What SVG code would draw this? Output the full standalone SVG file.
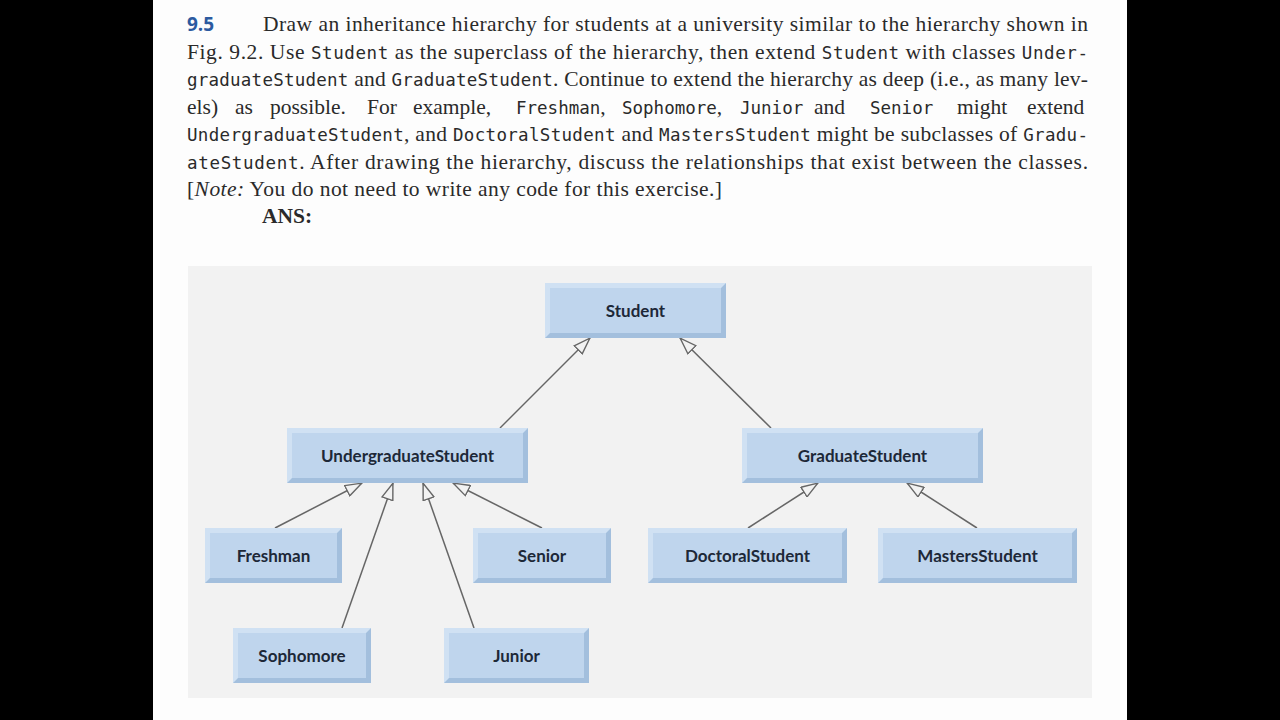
<svg xmlns="http://www.w3.org/2000/svg" width="1280" height="720" viewBox="0 0 1280 720">
<style>
.s{font-family:"Liberation Serif","Times New Roman",serif;font-size:21.5px;fill:#2a2a2a}
.m{font-family:"DejaVu Sans Mono","Liberation Mono",monospace;font-size:17.5px}
.it{font-style:italic}
.lbl{font-family:Lato,"Open Sans",sans-serif;font-weight:700;font-size:17px;fill:#1d2838;text-anchor:middle}
.lo{fill:#a3bfdd}
.hi{fill:#d0e1f3}
.face{fill:#bfd5ed}
.edge{stroke:#666;stroke-width:1.5;fill:none;marker-end:url(#tri)}
</style>
<defs>
<marker id="tri" viewBox="0 0 18 13" refX="17.5" refY="6.5" markerWidth="18" markerHeight="13" markerUnits="userSpaceOnUse" orient="auto">
<path d="M0.8,0.8 L17.2,6.5 L0.8,12.2 Z" fill="#f2f2f2" stroke="#666" stroke-width="1.4"/>
</marker>
</defs>
<rect x="0" y="0" width="1280" height="720" fill="#000"/>
<rect x="153" y="0" width="974" height="720" fill="#fdfdfd"/>
<rect x="188" y="266" width="904" height="432" fill="#f2f2f2"/>

<g id="text">
<text x="187" y="31" font-family="'Open Sans','Noto Sans',sans-serif" font-weight="700" font-size="19" fill="#2c5aa0">9.5</text>
<text class="s" x="263" y="31" textLength="825" lengthAdjust="spacing">Draw an inheritance hierarchy for students at a university similar to the hierarchy shown in</text>
<text class="s" x="187" y="59" textLength="901" lengthAdjust="spacing">Fig. 9.2. Use <tspan class="m">Student</tspan> as the superclass of the hierarchy, then extend <tspan class="m">Student</tspan> with classes <tspan class="m">Under-</tspan></text>
<text class="s" x="187" y="86" textLength="901" lengthAdjust="spacing"><tspan class="m">graduateStudent</tspan> and <tspan class="m">GraduateStudent</tspan>. Continue to extend the hierarchy as deep (i.e., as many lev-</text>
<text class="s" y="114"><tspan x="187">els)</tspan><tspan x="235">as</tspan><tspan x="270">possible.</tspan><tspan x="367">For</tspan><tspan x="413">example,</tspan><tspan x="516" class="m">Freshman</tspan>,<tspan x="622" class="m">Sophomore</tspan>,<tspan x="740" class="m">Junior</tspan><tspan x="814">and</tspan><tspan x="870" class="m">Senior</tspan><tspan x="957">might</tspan><tspan x="1027">extend</tspan></text>
<text class="s" x="187" y="141" textLength="901" lengthAdjust="spacing"><tspan class="m">UndergraduateStudent</tspan>, and <tspan class="m">DoctoralStudent</tspan> and <tspan class="m">MastersStudent</tspan> might be subclasses of <tspan class="m">Gradu-</tspan></text>
<text class="s" x="187" y="169" textLength="901" lengthAdjust="spacing"><tspan class="m">ateStudent</tspan>. After drawing the hierarchy, discuss the relationships that exist between the classes.</text>
<text class="s" x="187" y="196" textLength="535" lengthAdjust="spacing">[<tspan class="it">Note:</tspan> You do not need to write any code for this exercise.]</text>
<text class="s" x="262" y="223" font-weight="700" font-size="19">ANS:</text>
</g>

<g id="connectors">
<line class="edge" x1="500" y1="428" x2="590" y2="338"/>
<line class="edge" x1="771" y1="428" x2="680" y2="338"/>
<line class="edge" x1="275" y1="528" x2="362" y2="483"/>
<line class="edge" x1="342" y1="628" x2="393" y2="483"/>
<line class="edge" x1="474" y1="628" x2="423" y2="483"/>
<line class="edge" x1="542" y1="528" x2="453" y2="483"/>
<line class="edge" x1="748" y1="528" x2="818" y2="483"/>
<line class="edge" x1="977" y1="528" x2="907" y2="483"/>
</g>

<g id="student" transform="translate(545,283)">
<rect class="lo" width="181" height="55"/><polygon class="hi" points="0,0 181,0 176,5 5,5 5,50 0,55"/><rect class="face" x="5" y="5" width="171" height="45"/>
<text class="lbl" x="90.5" y="33.5">Student</text>
</g>
<g id="undergraduate" transform="translate(287,428)">
<rect class="lo" width="241" height="55"/><polygon class="hi" points="0,0 241,0 236,5 5,5 5,50 0,55"/><rect class="face" x="5" y="5" width="231" height="45"/>
<text class="lbl" x="120.5" y="33.5">UndergraduateStudent</text>
</g>
<g id="graduate" transform="translate(742,428)">
<rect class="lo" width="241" height="55"/><polygon class="hi" points="0,0 241,0 236,5 5,5 5,50 0,55"/><rect class="face" x="5" y="5" width="231" height="45"/>
<text class="lbl" x="120.5" y="33.5">GraduateStudent</text>
</g>
<g id="freshman" transform="translate(205,528)">
<rect class="lo" width="137" height="55"/><polygon class="hi" points="0,0 137,0 132,5 5,5 5,50 0,55"/><rect class="face" x="5" y="5" width="127" height="45"/>
<text class="lbl" x="68.5" y="33.5">Freshman</text>
</g>
<g id="senior" transform="translate(473,528)">
<rect class="lo" width="138" height="55"/><polygon class="hi" points="0,0 138,0 133,5 5,5 5,50 0,55"/><rect class="face" x="5" y="5" width="128" height="45"/>
<text class="lbl" x="69" y="33.5">Senior</text>
</g>
<g id="doctoral" transform="translate(648,528)">
<rect class="lo" width="199" height="55"/><polygon class="hi" points="0,0 199,0 194,5 5,5 5,50 0,55"/><rect class="face" x="5" y="5" width="189" height="45"/>
<text class="lbl" x="99.5" y="33.5">DoctoralStudent</text>
</g>
<g id="masters" transform="translate(878,528)">
<rect class="lo" width="199" height="55"/><polygon class="hi" points="0,0 199,0 194,5 5,5 5,50 0,55"/><rect class="face" x="5" y="5" width="189" height="45"/>
<text class="lbl" x="99.5" y="33.5">MastersStudent</text>
</g>
<g id="sophomore" transform="translate(233,628)">
<rect class="lo" width="138" height="55"/><polygon class="hi" points="0,0 138,0 133,5 5,5 5,50 0,55"/><rect class="face" x="5" y="5" width="128" height="45"/>
<text class="lbl" x="69" y="33.5">Sophomore</text>
</g>
<g id="junior" transform="translate(444,628)">
<rect class="lo" width="145" height="55"/><polygon class="hi" points="0,0 145,0 140,5 5,5 5,50 0,55"/><rect class="face" x="5" y="5" width="135" height="45"/>
<text class="lbl" x="72.5" y="33.5">Junior</text>
</g>
</svg>
